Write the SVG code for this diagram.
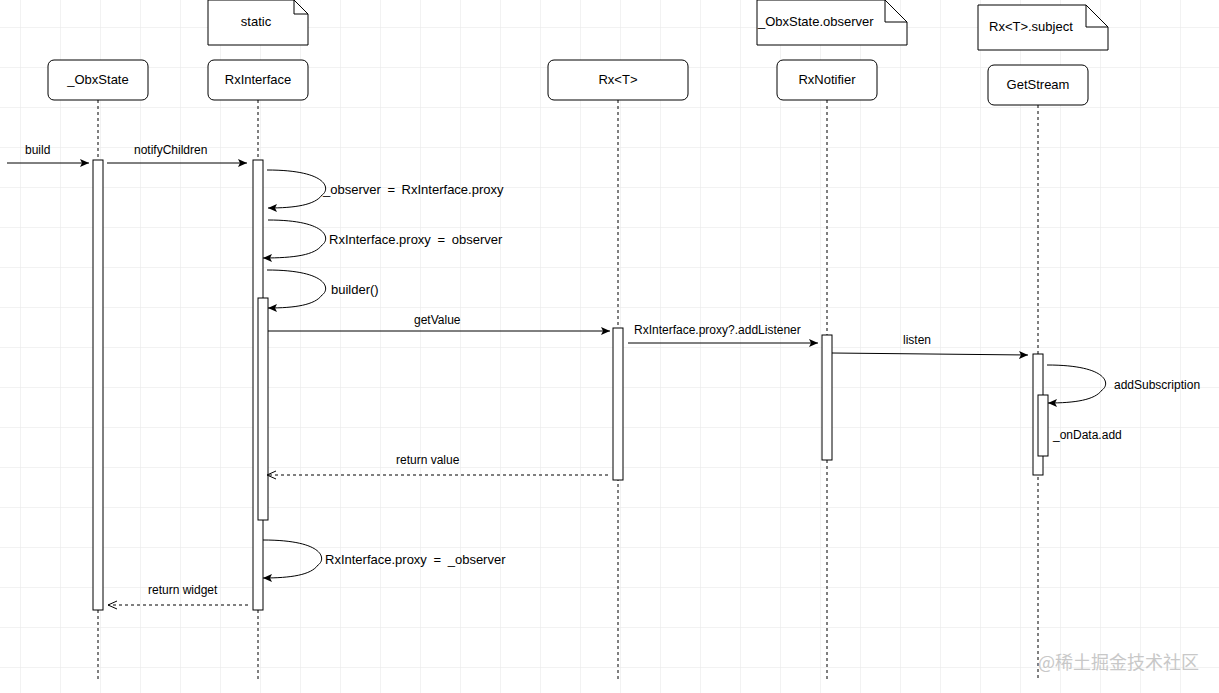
<svg xmlns="http://www.w3.org/2000/svg" width="1219" height="693" viewBox="0 0 1219 693">
<defs>
<pattern id="grid" x="20" y="27" width="40" height="40" patternUnits="userSpaceOnUse"><path d="M40 0H0V40" fill="none" stroke="#e6e6e6" stroke-width="1"/></pattern>
<marker id="ar" markerWidth="10" markerHeight="10" refX="9" refY="5" orient="auto" markerUnits="userSpaceOnUse"><path d="M0,1 L9,5 L0,9 L2,5 Z" fill="#000"/></marker>
<marker id="op" markerWidth="10" markerHeight="10" refX="9" refY="5" orient="auto" markerUnits="userSpaceOnUse"><path d="M0,1 L9,5 L0,9" fill="none" stroke="#000"/></marker>
</defs>
<style>
text{font-family:"Liberation Sans",Arial,sans-serif;font-size:12px;fill:#000}
.t{font-size:13px}
.lp{font-size:13px;word-spacing:3px}
.box{fill:#fff;stroke:#000;stroke-width:1}
.ll{stroke:#000;stroke-dasharray:3,3;fill:none}
.act{fill:#fff;stroke:#000}
.msg{stroke:#000;fill:none;marker-end:url(#ar)}
.ret{stroke:#000;fill:none;stroke-dasharray:3,3;marker-end:url(#op)}
.c{text-anchor:middle}
</style>
<rect width="1219" height="693" fill="#fff"/>
<rect width="1219" height="693" fill="url(#grid)"/>
<g id="lifelines">
<line class="ll" x1="98" y1="100" x2="98" y2="680"/>
<line class="ll" x1="258" y1="100" x2="258" y2="680"/>
<line class="ll" x1="618" y1="100" x2="618" y2="680"/>
<line class="ll" x1="827" y1="100" x2="827" y2="680"/>
<line class="ll" x1="1038" y1="105" x2="1038" y2="680"/>
</g>
<g id="note-static"><path class="box" d="M208,0H294L308,14V45H208Z"/><path d="M294,0V14H308" fill="none" stroke="#000"/><text class="c t" x="256" y="26">static</text></g>
<g id="note-observer"><path class="box" d="M757,0H885L907,22V45H757Z"/><path d="M885,0V22H907" fill="none" stroke="#000"/><text class="t" x="758" y="26">_ObxState.observer</text></g>
<g id="note-subject"><path class="box" d="M978,5H1086L1108,27V50H978Z"/><path d="M1086,5V27H1108" fill="none" stroke="#000"/><text class="t" x="989" y="31">Rx&lt;T&gt;.subject</text></g>
<g id="obxstate"><rect class="box" x="48" y="60" width="100" height="40" rx="6"/><text class="c t" x="98" y="84">_ObxState</text></g>
<g id="rxinterface"><rect class="box" x="208" y="60" width="100" height="40" rx="6"/><text class="c t" x="258" y="84">RxInterface</text></g>
<g id="rxt"><rect class="box" x="548" y="60" width="140" height="40" rx="6"/><text class="c t" x="618" y="84">Rx&lt;T&gt;</text></g>
<g id="rxnotifier"><rect class="box" x="777" y="60" width="100" height="40" rx="6"/><text class="c t" x="827" y="84">RxNotifier</text></g>
<g id="getstream"><rect class="box" x="988" y="65" width="100" height="40" rx="6"/><text class="c t" x="1038" y="89">GetStream</text></g>
<g id="activations">
<rect class="act" x="93" y="160" width="10" height="450"/>
<rect class="act" x="253" y="160" width="10" height="450"/>
<rect class="act" x="258" y="298" width="10" height="222"/>
<rect class="act" x="613" y="328" width="10" height="152"/>
<rect class="act" x="822" y="335" width="10" height="125"/>
<rect class="act" x="1033" y="354" width="10" height="121"/>
<rect class="act" x="1038" y="395" width="10" height="61"/>
</g>
<g id="connectors">
<line class="msg" x1="7" y1="163" x2="89" y2="163"/>
<line class="msg" x1="107" y1="163" x2="247" y2="163"/>
<path class="msg" d="M267,170 C330,170 330,190 322,195 C315,205 295,208 268,208"/>
<path class="msg" d="M268,220 C330,220 330,240 322,245 C315,255 295,258 263,258"/>
<path class="msg" d="M267,270 C330,270 330,290 322,295 C315,305 295,308 268,308"/>
<line class="msg" x1="268" y1="331" x2="610" y2="331"/>
<line class="msg" x1="628" y1="343" x2="818" y2="343"/>
<line class="msg" x1="832" y1="353" x2="1028" y2="355"/>
<path class="msg" d="M1047,365 C1110,365 1110,385 1102,390 C1095,400 1075,403 1048,403"/>
<line class="ret" x1="608" y1="475" x2="267" y2="475"/>
<path class="msg" d="M263,540 C326,540 326,560 318,565 C311,575 291,578 263,578"/>
<line class="ret" x1="248" y1="605" x2="108" y2="605"/>
</g>
<g id="labels">
<text x="25" y="154">build</text>
<text x="134" y="154">notifyChildren</text>
<text class="lp" x="323" y="194">_observer = RxInterface.proxy</text>
<text class="lp" x="329" y="244">RxInterface.proxy = observer</text>
<text class="lp" x="331" y="294">builder()</text>
<text x="414" y="324">getValue</text>
<text x="634" y="334">RxInterface.proxy?.addListener</text>
<text x="903" y="344">listen</text>
<text x="1114" y="389">addSubscription</text>
<text x="1053" y="439">_onData.add</text>
<text x="396" y="464">return value</text>
<text class="lp" x="325" y="564">RxInterface.proxy = _observer</text>
<text x="148" y="594">return widget</text>
</g>
<text x="1038" y="669" style="font-family:'Noto Sans CJK SC',sans-serif;font-size:18px;fill:#c8c8c8">@稀土掘金技术社区</text>
</svg>
